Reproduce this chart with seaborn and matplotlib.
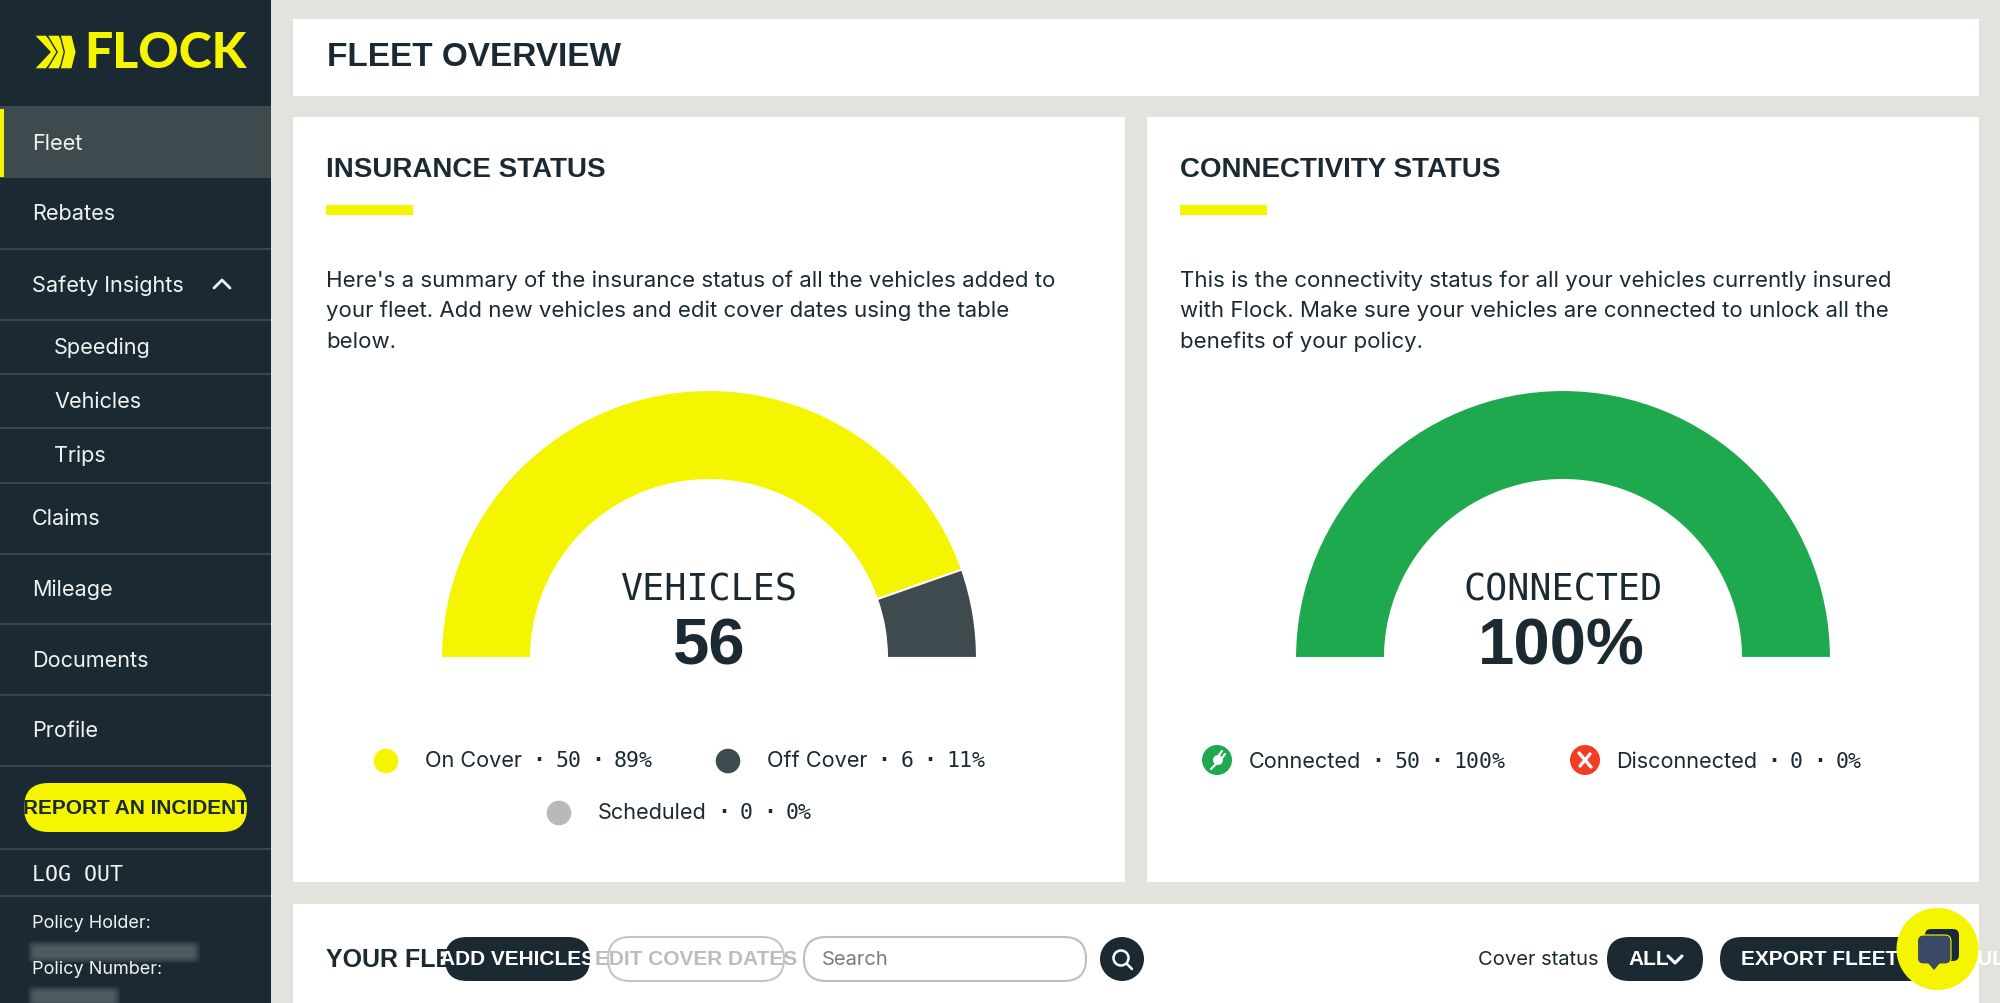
import matplotlib
matplotlib.use('Agg')
import matplotlib.pyplot as plt
from matplotlib.patches import Circle, Ellipse, FancyBboxPatch, Polygon, Rectangle
import numpy as np
import seaborn as sns

# data
insurance_labels = ['On Cover', 'Off Cover', 'Scheduled']
insurance_counts = [50, 6, 0]
insurance_pcts = [89, 11, 0]
connect_labels = ['Connected', 'Disconnected']
connect_counts = [50, 0]
connect_pcts = [100, 0]
nav_items = ['Fleet', 'Rebates', 'Safety Insights', 'Claims', 'Mileage', 'Documents', 'Profile']
nav_y = [144, 214, 286, 519, 590, 661, 731]
sub_items = ['Speeding', 'Vehicles', 'Trips']
sub_y = [348, 402, 456]
nav_lines = [250, 321, 375, 429, 484, 555, 625, 696, 767, 850, 897]
insurance_text = ["Here's a summary of the insurance status of all the vehicles added to",
                  'your fleet. Add new vehicles and edit cover dates using the table',
                  'below.']
connect_text = ['This is the connectivity status for all your vehicles currently insured',
                'with Flock. Make sure your vehicles are connected to unlock all the',
                'benefits of your policy.']

DARK = '#1b2a32'
SLATE = '#3f4a4f'
YELLOW = '#f6f500'
GREEN = '#1fa94f'
RED = '#f03d24'
GREY = '#b9b9b9'
BG = '#e3e2dd'
NAV_LINE = '#38454b'
BODY = 'Inter'
HEAD = ['Liberation Sans Narrow', 'Liberation Sans']
MONO = 'DejaVu Sans Mono'

sns.set_theme(style='white')
plt.rcParams['font.family'] = ['Inter', 'DejaVu Sans']

W, H = 2000, 1004
fig = plt.figure(figsize=(20, 10.04), dpi=100, facecolor=BG)
bg = fig.add_axes([0, 0, 1, 1])
bg.set_xlim(0, W)
bg.set_ylim(H, 0)
bg.axis('off')
renderer = fig.canvas.get_renderer()


def box(x0, y0, x1, y1, color, z=1):
    bg.add_patch(Rectangle((x0, y0), x1 - x0, y1 - y0, fc=color, ec='none', zorder=z))


def pill(x0, y0, x1, y1, fc, ec='none', lw=0, z=2):
    r = (y1 - y0) / 2
    bg.add_patch(FancyBboxPatch((x0, y0), x1 - x0, y1 - y0, boxstyle=f'round,pad=0,rounding_size={r}',
                                fc=fc, ec=ec, lw=lw, zorder=z))


def label(x, y, s, size, color=DARK, family=BODY, weight='normal', ha='left', z=5):
    return bg.text(x, y, s, fontsize=size, color=color, family=family, weight=weight,
                   ha=ha, va='center', zorder=z)


def stroke(xs, ys, color, lw, z=6):
    bg.plot(xs, ys, color=color, lw=lw, solid_capstyle='round', solid_joinstyle='round', zorder=z)


def legend_run(x, y, name, count, pct):
    # label, dot, count, dot, percent laid out one after the other
    pieces = [(name, BODY, 15.6, 'normal', 10), ('·', MONO, 15.5, 'bold', 10),
              (str(count), MONO, 15.5, 'normal', 10), ('·', MONO, 15.5, 'bold', 10),
              (f'{pct}%', MONO, 15.5, 'normal', 0)]
    for s, family, size, weight, gap in pieces:
        t = label(x, y, s, size, family=family, weight=weight)
        x += t.get_window_extent(renderer).width + gap


def gauge(cx, cy, counts, colors):
    r, inner = 268, 178
    ax = fig.add_axes([(cx - r) / W, 1 - (cy + r) / H, 2 * r / W, 2 * r / H])
    fractions = np.array(counts) / sum(counts) / 2
    ax.pie(fractions, colors=colors, normalize=False, startangle=180, counterclock=False, radius=1,
           wedgeprops=dict(width=(r - inner) / r, edgecolor='white', linewidth=1.5))
    ax.set_xlim(-1, 1)
    ax.set_ylim(-1, 1)
    ax.set_aspect('equal')
    return ax


# cards
box(293, 20, 1979, 97, 'white')
box(293, 118, 1125, 883, 'white')
box(1147, 118, 1979, 883, 'white')
box(293, 905, 1979, H, 'white')

# sidebar
box(0, 0, 271, H, DARK)
box(0, 107, 271, 179, SLATE, z=2)
box(0, 110, 3.5, 178, YELLOW, z=3)
for y in nav_lines:
    box(0, y - 1, 271, y + 1, NAV_LINE, z=2)
for name, y in zip(nav_items, nav_y):
    label(32, y, name, 15.6, color='#f2f3f1')
for name, y in zip(sub_items, sub_y):
    label(54, y, name, 15.6, color='#f2f3f1')
stroke([214, 222, 230], [289, 281, 289], '#f2f3f1', 2)

# logo
for dx in (0, 13, 26):
    bg.add_patch(Polygon([(34 + dx, 36), (46 + dx, 36), (62 + dx * 0.55, 53), (46 + dx, 70), (34 + dx, 70),
                          (50 + dx * 0.55, 53)], fc=YELLOW, ec=DARK, lw=1, zorder=3))
label(84, 53, 'FLOCK', 36, color=YELLOW, weight='black', family='Lato')

pill(24, 784, 247, 833, YELLOW)
label(135.5, 809, 'REPORT AN INCIDENT', 15, family=HEAD, weight='bold', ha='center')
label(32, 875, 'LOG OUT', 15.5, color='#f2f3f1', family=MONO)
label(32, 924, 'Policy Holder:', 13, color='#f2f3f1')
label(32, 970, 'Policy Number:', 13, color='#f2f3f1')
# blurred values
for pad in np.linspace(0, 6, 6):
    bg.add_patch(FancyBboxPatch((34 - pad, 948 - pad), 160 + 2 * pad, 10 + 2 * pad, boxstyle='round,pad=0,rounding_size=5',
                                fc='#7d878b', ec='none', alpha=0.12, zorder=3))
    bg.add_patch(FancyBboxPatch((34 - pad, 993 - pad), 80 + 2 * pad, 10 + 2 * pad, boxstyle='round,pad=0,rounding_size=5',
                                fc='#7d878b', ec='none', alpha=0.12, zorder=3))

# titles
label(327, 58, 'FLEET OVERVIEW', 24, family=HEAD, weight='bold')
label(326, 170, 'INSURANCE STATUS', 20, family=HEAD, weight='bold')
label(1180, 170, 'CONNECTIVITY STATUS', 20, family=HEAD, weight='bold')
box(326, 206, 413, 216, YELLOW)
box(1180, 206, 1267, 216, YELLOW)

for lines, x in ((insurance_text, 326), (connect_text, 1180)):
    for i, line in enumerate(lines):
        label(x, 280.5 + i * 30.6, line, 16)

# gauges
gauge(709, 659, insurance_counts, [YELLOW, SLATE, GREY])
gauge(1563, 659, connect_counts, [GREEN, RED])
label(709, 590, 'VEHICLES', 26.5, family=MONO, ha='center')
label(709, 648, '56', 47, family=HEAD, weight='bold', ha='center')
label(1563, 590, 'CONNECTED', 26.5, family=MONO, ha='center')
label(1561, 648, '100%', 47, family=HEAD, weight='bold', ha='center')

# legends
legend_dots = [(386, 762, 425), (728, 762, 767), (559, 814, 598)]
for (dx, y, tx), name, n, p, c in zip(legend_dots, insurance_labels, insurance_counts, insurance_pcts,
                                      [YELLOW, SLATE, GREY]):
    bg.add_patch(Circle((dx, y), 12.3, fc=c, ec='none', zorder=3))
    legend_run(tx, y - 1, name, n, p)

for dx, tx, name, n, p, c in zip((1217, 1585), (1249, 1616), connect_labels, connect_counts, connect_pcts,
                                 [GREEN, RED]):
    bg.add_patch(Circle((dx, 761), 15, fc=c, ec='none', zorder=3))
    legend_run(tx, 762, name, n, p)
# plug icons
bg.add_patch(Ellipse((1218, 761), 10, 10, fc='white', ec='none', zorder=4))
stroke([1216, 1211], [765, 770], 'white', 1.6)
stroke([1219, 1222], [756, 752], 'white', 1.6)
stroke([1222, 1225], [759, 755], 'white', 1.6)
stroke([1579, 1591], [754, 768], 'white', 2.4)
stroke([1590, 1580], [755, 767], 'white', 2.4)

# bottom bar
label(326, 960, 'YOUR FLEET', 18, family=HEAD, weight='bold')
pill(445, 938, 590, 982, DARK)
label(517.5, 960, 'ADD VEHICLES', 15, color='white', family=HEAD, weight='bold', ha='center')
pill(608, 938, 784, 982, 'white', ec='#c4c4c4', lw=1.5)
label(696, 960, 'EDIT COVER DATES', 15, color='#bcbcbc', family=HEAD, weight='bold', ha='center')
pill(804, 938, 1086, 982, 'white', ec='#bdbdbd', lw=1.5)
label(822, 960, 'Search', 14.5, color='#777c7f')
bg.add_patch(Circle((1122, 960), 22, fc=DARK, ec='none', zorder=3))
bg.add_patch(Circle((1121, 959), 7.5, fc='none', ec='white', lw=1.8, zorder=4))
stroke([1127, 1132], [965, 970], 'white', 1.8)
label(1478, 960, 'Cover status', 14.5)
pill(1607, 938, 1703, 982, DARK)
label(1628, 960, 'ALL', 15, color='white', family=HEAD, weight='bold')
stroke([1668, 1675, 1682], [957, 964, 957], 'white', 2.2)
pill(1720, 938, 1950, 982, DARK)
label(1741, 960, 'EXPORT FLEET SCHEDULE', 15, color='white', family=HEAD, weight='bold')

# chat button
bg.add_patch(Circle((1937.5, 950), 41, fc=YELLOW, ec='none', zorder=7))
bg.add_patch(FancyBboxPatch((1925, 930), 34, 32, boxstyle='round,pad=0,rounding_size=6', fc=DARK, ec='none', zorder=8))
bg.add_patch(FancyBboxPatch((1917.5, 936), 33.5, 29, boxstyle='round,pad=0,rounding_size=6', fc='#3a4a66', ec=YELLOW, lw=0.8, zorder=9))
bg.add_patch(Polygon([(1928, 964), (1940, 964), (1934, 971)], fc='#3a4a66', ec='none', zorder=9))

fig.savefig('out.png', dpi=100, facecolor=BG)
